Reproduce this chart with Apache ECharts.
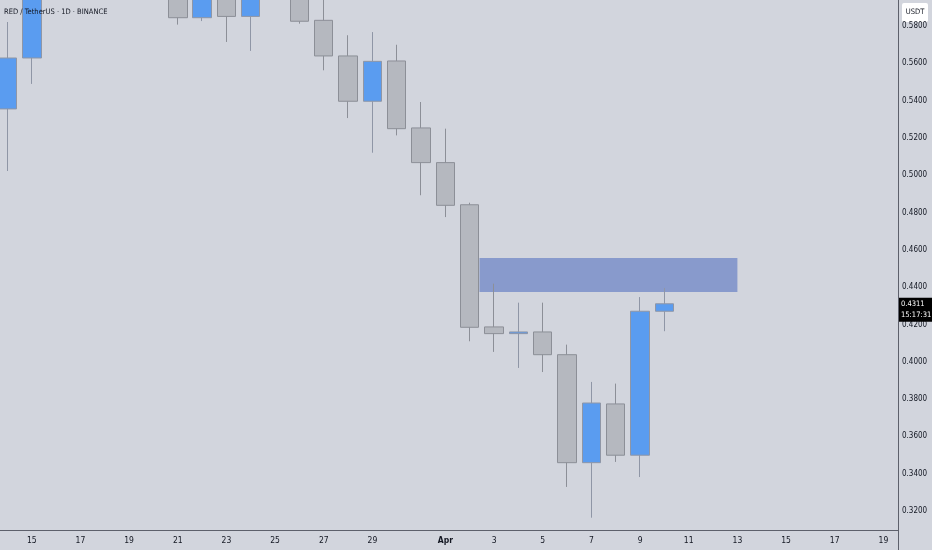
<!DOCTYPE html>
<html>
<head>
<meta charset="utf-8">
<script src="https://cdn.jsdelivr.net/npm/echarts@6/dist/echarts.min.js"></script>
<style>
html,body{margin:0;padding:0;background:#d2d5dd;}
#chart{width:932px;height:550px;}
</style>
</head>
<body>
<div id="chart"></div>
<script>
// ---- data (day index 0 = Mar 14) ----
const candleDay = [0,1,2,3,4,5,6,7,8,9,10,11,12,13,14,15,16,17,18,19,20,21,22,23,24,25,26,27];
const opens  = [0.5356,0.5629,0.6120,0.6400,0.6620,0.6500,0.6180,0.6050,0.5845,0.6030,0.5852,0.6040,0.6120,0.5831,0.5640,0.5397,0.5613,0.5254,0.5068,0.4842,0.4187,0.4151,0.4160,0.4038,0.3459,0.3774,0.3499,0.4271];
const closes = [0.5629,0.6120,0.6400,0.6620,0.6500,0.6180,0.6050,0.5845,0.6030,0.5852,0.6040,0.6120,0.5826,0.5640,0.5397,0.5611,0.5250,0.5068,0.4839,0.4185,0.4151,0.4160,0.4038,0.3459,0.3779,0.3499,0.4271,0.4311];
const lows   = [0.5023,0.5490,0.6050,0.6280,0.6410,0.6220,0.5980,0.5808,0.5827,0.5715,0.5667,0.5970,0.5813,0.5563,0.5307,0.5121,0.5214,0.4893,0.4776,0.4110,0.4053,0.3967,0.3945,0.3329,0.3164,0.3463,0.3382,0.4164];
const highs  = [0.5822,0.6220,0.6520,0.6750,0.6800,0.6580,0.6280,0.6120,0.6100,0.6080,0.6110,0.6200,0.6160,0.6000,0.5751,0.5768,0.5700,0.5393,0.5250,0.4853,0.4419,0.4317,0.4317,0.4092,0.3892,0.3883,0.4347,0.4396];

const zoneDays = [19.4, 30];
const zonePrices = [0.4557, 0.4374];
const lastPrice = 0.4311;
const countdown = '15:17:31';

const xTickDays   = [1,3,5,7,9,11,13,15,18,20,22,24,26,28,30,32,34,36];
const xTickLabels = ['15','17','19','21','23','25','27','29','Apr','3','5','7','9','11','13','15','17','19'];
const yTicks = [0.32,0.34,0.36,0.38,0.40,0.42,0.44,0.46,0.48,0.50,0.52,0.54,0.56,0.58];

const titleText = 'RED / TetherUS · 1D · BINANCE';
const currencyText = 'USDT';

const FONT = "'Liberation Sans Narrow','DejaVu Sans Condensed','Liberation Sans',sans-serif";

const candleData = candleDay.map((d,i)=>[d, opens[i], closes[i], lows[i], highs[i]]);

const chart = echarts.init(document.getElementById('chart'), null, {renderer:'canvas'});
chart.setOption({
  backgroundColor: '#d2d5dd',
  animation: false,
  title: {
    text: titleText, left: 4, top: 8, padding: 0,
    textStyle: {fontFamily: FONT, fontSize: 7.5, fontWeight: 'normal', color: '#131722'}
  },
  grid: {left: 0, right: 34, top: 0, bottom: 20},
  xAxis: {
    type: 'value', min: -0.305, max: 36.6,
    axisLine: {show: true, onZero: false, lineStyle: {color: '#5d606b', width: 1}},
    axisTick: {show: false},
    splitLine: {show: false},
    axisLabel: {
      customValues: xTickDays,
      margin: 6,
      fontFamily: FONT, fontSize: 8.5, color: '#131722',
      formatter: function(v){
        const i = xTickDays.indexOf(Math.round(v));
        if (i < 0) return '';
        const t = xTickLabels[i];
        return t === 'Apr' ? '{b|' + t + '}' : t;
      },
      rich: {b: {fontFamily: FONT, fontSize: 8.5, fontWeight: 'bold', color: '#131722'}}
    }
  },
  yAxis: {
    type: 'value', position: 'right', min: 0.3098, max: 0.5940,
    axisLine: {show: true, onZero: false, lineStyle: {color: '#5d606b', width: 1}},
    axisTick: {show: false},
    splitLine: {show: false},
    axisLabel: {
      customValues: yTicks,
      margin: 4,
      fontFamily: FONT, fontSize: 8, color: '#131722',
      formatter: v => v.toFixed(4)
    }
  },
  series: [{
    type: 'candlestick',
    clip: true,
    barWidth: 19,
    encode: {x: 0, y: [1,2,3,4]},
    data: candleData,
    itemStyle: {
      color: '#5a9cf0', color0: '#b5b8bf',
      borderColor: '#8f96a6', borderColor0: '#8c8f97',
      borderWidth: 1
    },
    markArea: {
      silent: true,
      itemStyle: {color: 'rgba(75,105,190,0.55)'},
      data: [[{coord: [zoneDays[0], zonePrices[0]]}, {coord: [zoneDays[1], zonePrices[1]]}]]
    },
    markLine: {
      silent: true,
      symbol: 'none',
      lineStyle: {color: 'rgba(0,0,0,0)', width: 0},
      label: {
        show: true, position: 'end', distance: 1,
        offset: [0, 4],
        formatter: lastPrice.toFixed(4) + '\n' + countdown,
        backgroundColor: '#000000', color: '#ffffff',
        fontFamily: FONT, fontSize: 7.5, lineHeight: 11,
        padding: [1, 2, 1, 2]
      },
      data: [{yAxis: lastPrice}]
    }
  }],
  graphic: [
    {type: 'line', shape: {x1: 898.5, y1: 530, x2: 898.5, y2: 550}, style: {stroke: '#5d606b', lineWidth: 1}},
    {type: 'rect', shape: {x: 902, y: 3, width: 26, height: 19, r: 2}, style: {fill: '#ffffff'}},
    {type: 'text', x: 915, y: 12.5, style: {text: currencyText, fontFamily: FONT, fontSize: 7.5, fill: '#131722', align: 'center', verticalAlign: 'middle'}}
  ]
});
</script>
</body>
</html>
